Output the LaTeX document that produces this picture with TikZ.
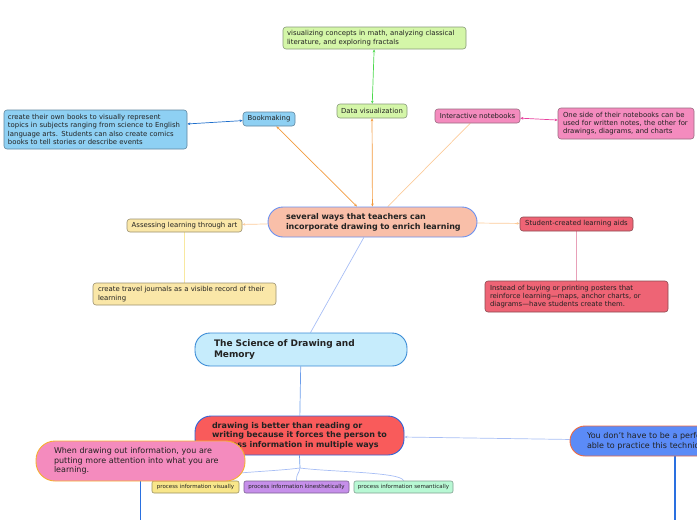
\documentclass[tikz,border=0pt]{standalone}
\usepackage{fontspec}
\setmainfont{DejaVu Sans}
\usetikzlibrary{arrows.meta}
\pgfdeclarelayer{bg}
\pgfsetlayers{bg,main}
\definecolor{cgreen}{HTML}{D4F6A8}
\definecolor{cgreenb}{HTML}{879A78}
\definecolor{cblue}{HTML}{8ED0F3}
\definecolor{cblueb}{HTML}{5E86A0}
\definecolor{cpink}{HTML}{F48BBE}
\definecolor{cpinkb}{HTML}{9A6A80}
\definecolor{csalmon}{HTML}{F9BFA9}
\definecolor{csalmonb}{HTML}{6A90F0}
\definecolor{cyel}{HTML}{FAE7A8}
\definecolor{cyelb}{HTML}{9A9070}
\definecolor{cred}{HTML}{EE6475}
\definecolor{credb}{HTML}{8A4A50}
\definecolor{csci}{HTML}{C6ECFC}
\definecolor{cscib}{HTML}{3A8BD6}
\definecolor{cdraw}{HTML}{F95B5B}
\definecolor{cdrawb}{HTML}{2F64D8}
\definecolor{corgb}{HTML}{F5B030}
\definecolor{crblue}{HTML}{5B8BF7}
\definecolor{crblueb}{HTML}{F06A40}
\definecolor{cvis}{HTML}{F8E68A}
\definecolor{cvisb}{HTML}{9A9060}
\definecolor{ckin}{HTML}{C68FEA}
\definecolor{ckinb}{HTML}{7A6090}
\definecolor{csem}{HTML}{B8F8D4}
\definecolor{csemb}{HTML}{80A090}
\definecolor{lgreen}{HTML}{4CD94C}
\definecolor{lorange}{HTML}{F29A3E}
\definecolor{lpeach}{HTML}{FCCB9A}
\definecolor{lblue}{HTML}{1E6FCC}
\definecolor{lmag}{HTML}{E8409E}
\definecolor{lyel}{HTML}{F8E8A0}
\definecolor{lpinkl}{HTML}{E8A0B8}
\definecolor{llblue}{HTML}{A8BEF5}
\definecolor{lmblue}{HTML}{6D9EEB}
\definecolor{ldblue}{HTML}{2A70E0}
\definecolor{ctext}{HTML}{222222}
\tikzset{
  box/.style={draw, rounded corners=3pt, line width=0.6pt, inner sep=0pt, align=left,
    text=ctext, font=\fontsize{6.9}{8.3}\selectfont},
  pill/.style={draw, line width=0.9pt, inner sep=0pt, align=left, text=ctext},
  tiny/.style={draw, rounded corners=2pt, line width=0.6pt, inner sep=0pt, text=ctext,
    font=\fontsize{5.5}{6}\selectfont},
  conn/.style={line width=0.7pt},
  tip/.style={-{Stealth[length=3pt,width=2.6pt]}},
  tips/.style={{Stealth[length=3pt,width=2.6pt]}-{Stealth[length=3pt,width=2.6pt]}},
}
\begin{document}
\begin{tikzpicture}[x=1pt,y=-1pt]
\useasboundingbox (0,0) rectangle (697,520);
\clip (0,0) rectangle (697,520);
% top branch nodes
\node[box, fill=cgreen, draw=cgreenb, minimum width=183, minimum height=22, text width=175] (topgreen) at (374.5,38)
  {\mbox{visualizing concepts in math, analyzing classical}\\\mbox{literature, and exploring fractals}};
\node[box, fill=cgreen, draw=cgreenb, minimum width=70, minimum height=14, align=center] (dataviz) at (372,111) {Data visualization};
\node[box, fill=cblue, draw=cblueb, minimum width=52, minimum height=14, align=center] (bookmaking) at (269,119) {Bookmaking};
\node[box, fill=cblue, draw=cblueb, minimum width=183, minimum height=39, text width=175] (leftblue) at (95.5,129.5)
  {\mbox{create their own books to visually represent}\\\mbox{topics in subjects ranging from science to English}\\\mbox{language arts. Students can also create comics}\\\mbox{books to tell stories or describe events}};
\node[box, fill=cpink, draw=cpinkb, minimum width=85, minimum height=14, align=center] (interactive) at (477.5,116) {Interactive notebooks};
\node[box, fill=cpink, draw=cpinkb, minimum width=136, minimum height=31, text width=126] (rightpink) at (626,123.5)
  {\mbox{One side of their notebooks can be}\\\mbox{used for written notes, the other for}\\\mbox{drawings, diagrams, and charts}};
% central
\node[pill, fill=csalmon, draw=csalmonb, rounded corners=15pt, minimum width=209, minimum height=30, text width=173,
  font=\fontsize{8}{9.8}\selectfont\bfseries] (central) at (372.5,222)
  {\mbox{several ways that teachers can}\\\mbox{incorporate drawing to enrich learning}};
\node[box, fill=cyel, draw=cyelb, minimum width=115, minimum height=13, align=center] (assessing) at (184.5,225.5) {Assessing learning through art};
\node[box, fill=cyel, draw=cyelb, minimum width=183, minimum height=22, text width=173] (travel) at (184.5,294)
  {\mbox{create travel journals as a visible record of their}\\\mbox{learning}};
\node[box, fill=cred, draw=credb, minimum width=113, minimum height=14, align=center] (aids) at (576.5,224) {Student-created learning aids};
\node[box, fill=cred, draw=credb, minimum width=183, minimum height=31, text width=173] (redbox) at (576.5,296.5)
  {\mbox{Instead of buying or printing posters that}\\\mbox{reinforce learning—maps, anchor charts, or}\\\mbox{diagrams—have students create them.}};
% lower part
\node[pill, fill=csci, draw=cscib, rounded corners=15pt, minimum width=212, minimum height=33, text width=174,
  font=\fontsize{9}{11}\selectfont\bfseries] (science) at (301,349.5)
  {\mbox{The Science of Drawing and}\\\mbox{Memory}};
\node[pill, fill=cdraw, draw=cdrawb, rounded corners=16pt, minimum width=209, minimum height=39, text width=175,
  font=\fontsize{8}{9.6}\selectfont\bfseries] (drawing) at (299.5,435.5)
  {\mbox{drawing is better than reading or}\\\mbox{writing because it forces the person to}\\\mbox{process information in multiple ways}};
\node[tiny, fill=cvis, draw=cvisb, minimum width=87, minimum height=12] (visually) at (195.5,487) {process information visually};
\node[tiny, fill=ckin, draw=ckinb, minimum width=105, minimum height=12] (kines) at (296.5,487) {process information kinesthetically};
\node[tiny, fill=csem, draw=csemb, minimum width=99, minimum height=12] (seman) at (403.5,487) {process information semantically};
\node[pill, fill=cpink, draw=corgb, rounded corners=19pt, minimum width=209, minimum height=40, text width=173,
  font=\fontsize{8}{9.7}\selectfont] (pinkleft) at (140.5,461)
  {\mbox{When drawing out information, you are}\\\mbox{putting more attention into what you are}\\\mbox{learning.}};
\node[pill, fill=crblue, draw=crblueb, rounded corners=15pt, minimum width=210, minimum height=30, text width=176,
  font=\fontsize{8}{9.7}\selectfont] (rightblue) at (675,441)
  {\mbox{You don't have to be a perfect artist to be}\\\mbox{able to practice this technique.}};
\coordinate (hub) at (300,468);
\coordinate (pinkdown) at (140.5,521);
\coordinate (rbdown) at (675,521);
\begin{pgfonlayer}{bg}
\draw[conn, tips, lgreen] (dataviz) -- (topgreen);
\draw[conn, tips, lorange] (central) -- (dataviz);
\draw[conn, tips, lorange] (central) -- (bookmaking);
\draw[conn, tips, lblue] (bookmaking) -- (leftblue);
\draw[conn, lpeach] (central) -- (interactive);
\draw[conn, tips, lmag] (interactive) -- (rightpink);
\draw[conn, tip, lpeach] (central) -- (assessing);
\draw[conn, lyel] (assessing) -- (travel);
\draw[conn, tip, lpeach] (central) -- (aids);
\draw[conn, lpinkl] (aids) -- (redbox);
\draw[conn, llblue] (central) -- (science);
\draw[conn, lmblue] (science) -- (drawing);
\draw[conn, tip, llblue] (rightblue) -- (drawing);
\draw[conn, lmblue] (drawing.south) -- (hub);
\draw[conn, llblue] (hub) .. controls (270,472) and (205,473) .. (visually.north);
\draw[conn, llblue] (hub) .. controls (299,474) and (296,474) .. (kines.north);
\draw[conn, llblue] (hub) .. controls (330,472) and (402,472) .. (seman.north);
\draw[line width=1.1pt, ldblue] (pinkleft.south) -- (pinkdown);
\draw[line width=1.1pt, ldblue] (rightblue.south) -- (rbdown);
\end{pgfonlayer}
\end{tikzpicture}
\end{document}
